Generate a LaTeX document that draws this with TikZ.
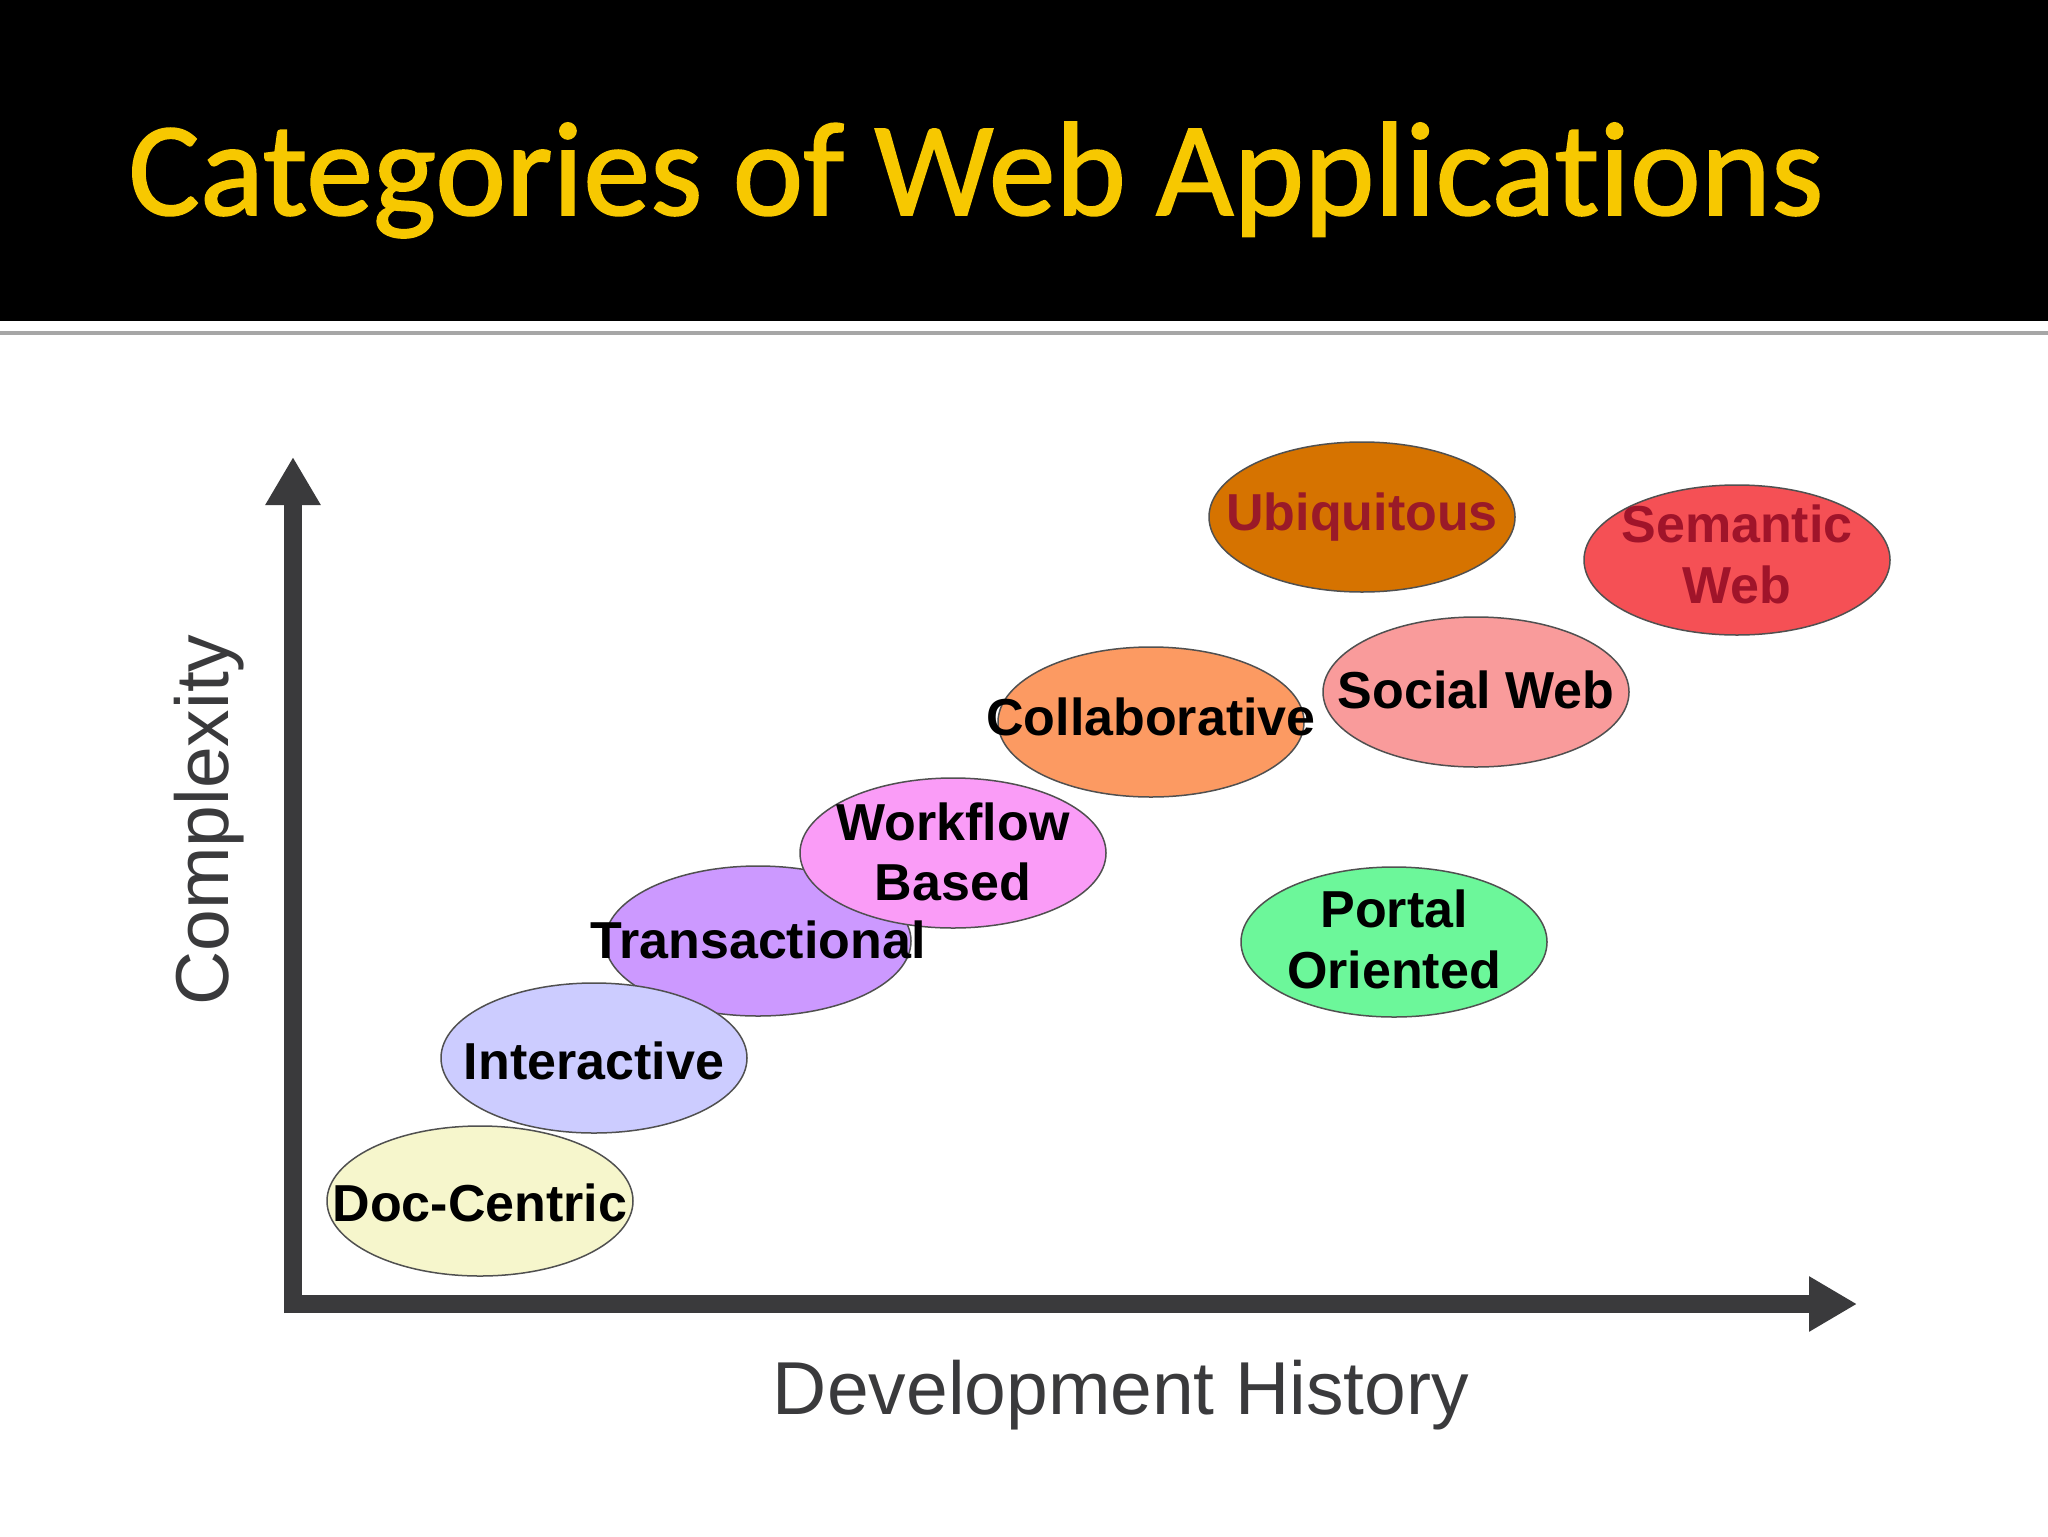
\documentclass[tikz,border=0pt]{standalone}
\usepackage{fontspec}
\usetikzlibrary{arrows.meta,shapes.geometric}
\newfontfamily\titlefont[Ligatures={NoCommon},FakeBold=1.2]{Carlito}
\newfontfamily\labfont{Liberation Sans}
\definecolor{titlegold}{HTML}{F7C800}
\definecolor{axisgray}{HTML}{3A3A3C}
\definecolor{outl}{HTML}{505050}
\definecolor{docfill}{HTML}{F6F6CC}
\definecolor{interfill}{HTML}{CCCCFF}
\definecolor{transfill}{HTML}{CC99FF}
\definecolor{workfill}{HTML}{FA9CF7}
\definecolor{collabfill}{HTML}{FC9A62}
\definecolor{ubiqfill}{HTML}{D67300}
\definecolor{ubiqtext}{HTML}{9A1A28}
\definecolor{semfill}{HTML}{F55055}
\definecolor{semtext}{HTML}{A0142A}
\definecolor{socialfill}{HTML}{F99B9B}
\definecolor{portalfill}{HTML}{6CF79A}
\begin{document}
\begin{tikzpicture}[x=0.5pt,y=-0.5pt,
  blob/.style={ellipse, draw=outl, line width=0.75pt, minimum width=153pt, minimum height=75pt, inner sep=0pt},
  lab/.style={anchor=base, inner sep=0pt, font=\labfont\bfseries\fontsize{26pt}{30pt}\selectfont, text=black},
  axislab/.style={anchor=base, inner sep=0pt, font=\labfont\fontsize{37.5pt}{44pt}\selectfont, text=axisgray},
  axisline/.style={draw=axisgray, line width=9pt, -{Triangle[length=24pt,width=26pt]}}
]
\useasboundingbox (0,0) rectangle (2048,1536);
\fill[white] (0,0) rectangle (2048,1536);
% title bar
\fill[black] (0,0) rectangle (2048,321);
\fill[gray!70] (0,331) rectangle (2048,335);
\node[anchor=base, inner sep=0pt, text=titlegold, font=\titlefont\fontsize{67pt}{70pt}\selectfont] (title) at (976,215) {Categories of Web Applications};

% axes
\coordinate (ytip) at (293,457);
\coordinate (xtip) at (1857,1304);
\coordinate (ybot) at (293,1313);
\coordinate (xleft) at (284,1304);
\draw[axisline] (ybot) -- (ytip);
\draw[axisline] (xleft) -- (xtip);
\node[axislab, rotate=90] (cplx) at (228,820) {Complexity};
\node[axislab] (dev) at (1121,1414) {Development History};

% ellipses
\node[blob, fill=docfill] (doc) at (480,1201) {};
\node[blob, fill=transfill] (trans) at (758,941) {};
\node[blob, fill=interfill] (inter) at (594,1058) {};
\node[blob, fill=workfill] (work) at (953,853) {};
\node[blob, fill=collabfill] (collab) at (1151,722) {};
\node[blob, fill=ubiqfill] (ubiq) at (1362,517) {};
\node[blob, fill=semfill] (sem) at (1737,560) {};
\node[blob, fill=socialfill] (social) at (1476,692) {};
\node[blob, fill=portalfill] (portal) at (1394,942) {};

% labels
\node[lab] (doc-t) at (480,1221) {Doc-Centric};
\node[lab] (inter-t) at (594,1079) {Interactive};
\node[lab] (trans-t) at (758,958) {Transactional};
\node[lab] (work-t1) at (953,840) {Workflow};
\node[lab] (work-t2) at (953,900) {Based};
\node[lab] (collab-t) at (1151,735) {Collaborative};
\node[lab, text=ubiqtext] (ubiq-t) at (1362,530) {Ubiquitous};
\node[lab, text=semtext] (sem-t1) at (1737,542) {Semantic};
\node[lab, text=semtext] (sem-t2) at (1737,603) {Web};
\node[lab] (social-t) at (1476,708) {Social Web};
\node[lab] (portal-t1) at (1394,927) {Portal};
\node[lab] (portal-t2) at (1394,988) {Oriented};
\end{tikzpicture}
\end{document}
